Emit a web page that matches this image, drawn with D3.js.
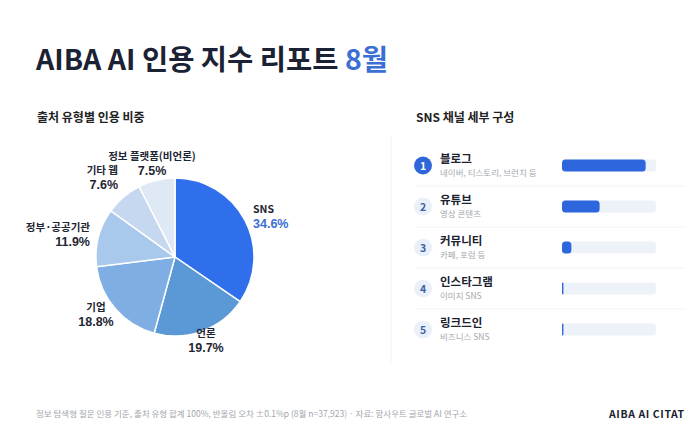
<!DOCTYPE html>
<html>
<head>
<meta charset="utf-8">
<script src="https://cdn.jsdelivr.net/npm/d3@7"></script>
<style>
  html, body { margin: 0; padding: 0; background: #fff; overflow: hidden; }
  svg { display: block; font-family: "Noto Sans CJK KR", "Noto Sans", sans-serif; }
</style>
</head>
<body>
<div id="chart"></div>
<script>
// source share (pie)
const sourceLabels = ["SNS", "언론", "기업", "정부·공공기관", "기타 웹", "정보 플랫폼(비언론)"];
const sourceValues = [34.6, 19.7, 18.8, 11.9, 7.6, 7.5];
const sourceColors = ["#2f6fec", "#5a98d6", "#7eaee3", "#a8c8ec", "#c6d8ef", "#dfe8f5"];

// SNS channel breakdown (bars, relative scale 0-100)
const snsNames = ["블로그", "유튜브", "커뮤니티", "인스타그램", "링크드인"];
const snsDescs = ["네이버, 티스토리, 브런치 등", "영상 콘텐츠", "카페, 포럼 등", "이미지 SNS", "비즈니스 SNS"];
const snsValues = [89, 40, 10, 1.5, 1.5];

const W = 686, H = 440;
const svg = d3.select("#chart").append("svg").attr("width", W).attr("height", H);

// title
const title = svg.append("text").attr("x", 36).attr("y", 70)
  .attr("font-size", 28.5).attr("font-weight", 700).attr("fill", "#1b2233");
title.append("tspan").text("AIBA AI 인용 지수 리포트 ");
title.append("tspan").attr("fill", "#3b6fd4").text("8월");

svg.append("text").attr("x", 37).attr("y", 122).attr("font-size", 12)
  .attr("font-weight", 700).attr("fill", "#222").text("출처 유형별 인용 비중");
svg.append("text").attr("x", 416).attr("y", 122).attr("font-size", 12)
  .attr("font-weight", 700).attr("fill", "#222").text("SNS 채널 세부 구성");

// pie
let cx = 175, cy = 257, r = 79;
let pie = d3.pie().sort(null).value(d => d)(sourceValues);
let arc = d3.arc().innerRadius(0).outerRadius(r);
let pg = svg.append("g").attr("transform", `translate(${cx},${cy})`);
pg.selectAll("path").data(pie).enter().append("path")
  .attr("d", arc)
  .attr("fill", (d, i) => sourceColors[i])
  .attr("stroke", "#fff").attr("stroke-width", 1.5);

// label positions (name line, value line below)
const labelPos = [
  {x: 253, y: 213, anchor: "start"},
  {x: 206, y: 337, anchor: "middle"},
  {x: 96, y: 311, anchor: "middle"},
  {x: 90, y: 231, anchor: "end"},
  {x: 118, y: 174, anchor: "end"},
  {x: 152, y: 160, anchor: "middle"}
];
sourceLabels.forEach((lab, i) => {
  let p = labelPos[i];
  svg.append("text").attr("x", p.x).attr("y", p.y).attr("text-anchor", p.anchor)
    .attr("font-size", 10.5).attr("font-weight", 600).attr("fill", "#1f2633").text(lab);
  svg.append("text").attr("x", p.x).attr("y", p.y + 14.5).attr("text-anchor", p.anchor)
    .attr("font-family", "'Liberation Sans', Arial, sans-serif")
    .attr("font-size", 12.5).attr("font-weight", 700)
    .attr("fill", i == 0 ? "#3a6fd0" : "#1f2633")
    .text(d3.format(".1f")(sourceValues[i]) + "%");
});

// right panel
svg.append("line").attr("x1", 391).attr("x2", 391).attr("y1", 135).attr("y2", 362)
  .attr("stroke", "#f0f2f5").attr("stroke-width", 1);

let y = d3.scaleBand().domain(snsNames).range([145, 350]).paddingInner(0);
let x = d3.scaleLinear().domain([0, 100]).range([562, 656]);

snsNames.forEach((name, i) => {
  let yc = y(name) + y.bandwidth() / 2;
  if (i > 0) {
    svg.append("line").attr("x1", 415).attr("x2", W).attr("y1", y(name)).attr("y2", y(name))
      .attr("stroke", "#f1f3f6").attr("stroke-width", 1);
  }
  svg.append("circle").attr("cx", 423).attr("cy", yc).attr("r", 9)
    .attr("fill", i == 0 ? "#2f66d9" : "#eaf0fa");
  svg.append("text").attr("x", 423).attr("y", yc + 4).attr("text-anchor", "middle")
    .attr("font-size", 10.5).attr("font-weight", 700)
    .attr("fill", i == 0 ? "#fff" : "#3c5fa8").text(i + 1);
  svg.append("text").attr("x", 440).attr("y", yc - 3).attr("font-size", 11.5)
    .attr("font-weight", 700).attr("fill", "#1c2230").text(name);
  svg.append("text").attr("x", 440).attr("y", yc + 10).attr("font-size", 8.5)
    .attr("fill", "#a3a8b0").text(snsDescs[i]);
  svg.append("rect").attr("x", x(0)).attr("y", yc - 6).attr("width", x(100) - x(0)).attr("height", 12)
    .attr("rx", 3).attr("fill", "#edf2f9");
  let bw = x(snsValues[i]) - x(0);
  svg.append("rect").attr("x", x(0)).attr("y", yc - 6).attr("width", bw).attr("height", 12)
    .attr("rx", Math.min(3.5, bw / 2)).attr("fill", "#2e66de");
});

// footer
svg.append("text").attr("x", 36).attr("y", 417).attr("font-size", 8.5).attr("fill", "#a2a6ad")
  .text("정보 탐색형 질문 인용 기준, 출처 유형 합계 100%, 반올림 오차 ±0.1%p (8월 n=37,923) · 자료: 함사우트 글로벌 AI 연구소");
svg.append("text").attr("x", 609).attr("y", 418).attr("font-size", 10.5).attr("font-weight", 700)
  .attr("fill", "#1c2230").attr("letter-spacing", 0.6).text("AIBA AI CITAT");
</script>
</body>
</html>
